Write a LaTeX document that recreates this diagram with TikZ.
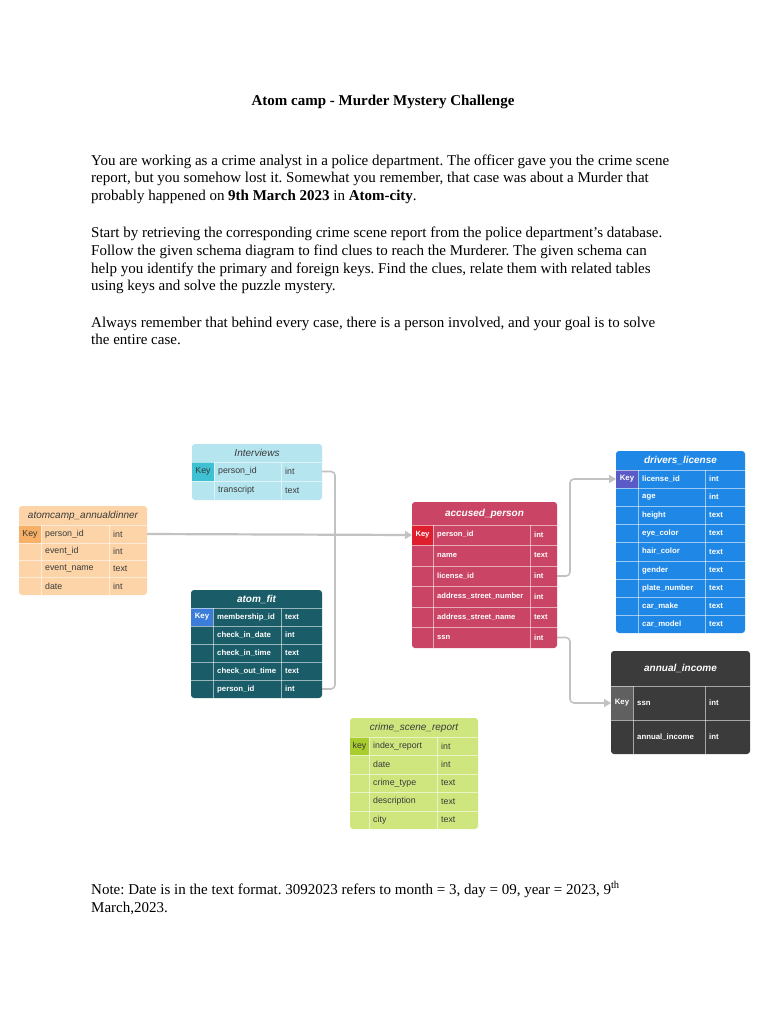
\documentclass[tikz,border=0pt]{standalone}
\usepackage{fontspec}
\setmainfont{Liberation Serif}
\newfontfamily\tabfont{Liberation Sans}
\usetikzlibrary{arrows.meta}
\frenchspacing
\definecolor{linkgray}{HTML}{C2C2C2}
\definecolor{ivfill}{HTML}{B5E6EF}
\definecolor{ivkey}{HTML}{3EC1D3}
\definecolor{adfill}{HTML}{FCD4A7}
\definecolor{adkey}{HTML}{F8B066}
\definecolor{apfill}{HTML}{C94465}
\definecolor{apkey}{HTML}{DF1F2D}
\definecolor{dlfill}{HTML}{1F87E5}
\definecolor{dlkey}{HTML}{5B5BC7}
\definecolor{affill}{HTML}{1A5D68}
\definecolor{afkey}{HTML}{3C7DD9}
\definecolor{aifill}{HTML}{3B3B3B}
\definecolor{aikey}{HTML}{606060}
\definecolor{csfill}{HTML}{CFE67E}
\definecolor{cskey}{HTML}{A9CD2C}
\definecolor{darktxt}{HTML}{3A3A3A}
\def\fw{}
\def\fs{7.6}
\newcommand\settab[4]{\def\xa{#1}\def\xk{#2}\def\xt{#3}\def\xb{#4}}
\newcommand\dbframe[6]{% fill, ytop, yhead, ybot, title, name
  \fill[#1, rounded corners=3pt] (\xa,#2) rectangle (\xb,#4);
  \node[hdr] (#6) at ({(\xa+\xb)/2},{(#2+#3)/2}) {#5};
}
\newcommand\dbkey[4]{% color, ytop, ybot, label
  \fill[#1] (\xa,#2) rectangle (\xk,#3);
  \node[fld, anchor=center] at ({(\xa+\xk)/2},{(#2+#3)/2}) {#4};
}
\newcommand\dbcols[2]{%
  \draw[sepl] (\xk,#1) -- (\xk,#2);
  \draw[sepl] (\xt,#1) -- (\xt,#2);
}
\newcommand\dbrow[5]{% name, ytop, ybot, field, type
  \draw[sepl] (\xa,#2) -- (\xb,#2);
  \node[fld] (#1) at ({\xk+4},{(#2+#3)/2}) {#4};
  \node[fld] (#1-t) at ({\xt+4},{(#2+#3)/2}) {#5};
}
\tikzset{
  body/.style={anchor=base west, inner sep=0pt, font=\fontsize{15}{17}\selectfont},
  fld/.style={anchor=west, inner sep=0pt, font=\tabfont\fw\fontsize{\fs}{9}\selectfont},
  hdr/.style={inner sep=0pt, font=\tabfont\itshape\fw\fontsize{10}{11}\selectfont},
  sepl/.style={draw=white, draw opacity=0.55, line width=0.6pt},
  conn/.style={draw=linkgray, line width=1.6pt, rounded corners=4pt},
  arr/.style={-{Triangle[length=7pt,width=8pt]}},
}
\begin{document}
\begin{tikzpicture}[x=1pt,y=-1pt]
\useasboundingbox (0,0) rectangle (768,1024);
\fill[white] (0,0) rectangle (768,1024);

% ---------- text ----------
\node[inner sep=0pt, font=\bfseries\fontsize{15}{17}\selectfont] (title) at (383,102) {Atom camp - Murder Mystery Challenge};
\node[body] (l1) at (91,165.5) {You are working as a crime analyst in a police department. The officer gave you the crime scene};
\node[body] (l2) at (91,183) {report, but you somehow lost it. Somewhat you remember, that case was about a Murder that};
\node[body] (l3) at (91,200.5) {probably happened on \textbf{9th March 2023} in \textbf{Atom-city}.};
\node[body] (l4) at (91,237) {Start by retrieving the corresponding crime scene report from the police department’s database.};
\node[body] (l5) at (91,255) {Follow the given schema diagram to find clues to reach the Murderer. The given schema can};
\node[body] (l6) at (91,273) {help you identify the primary and foreign keys. Find the clues, relate them with related tables};
\node[body] (l7) at (91,290.5) {using keys and solve the puzzle mystery.};
\node[body] (l8) at (91,327) {Always remember that behind every case, there is a person involved, and your goal is to solve};
\node[body] (l9) at (91,344.5) {the entire case.};
\node[body] (n1) at (91,894) {Note: Date is in the text format. 3092023 refers to month = 3, day = 09, year = 2023, 9\textsuperscript{th}};
\node[body] (n2) at (91,912) {March,2023.};

% ---------- connectors ----------
\coordinate (ad-pid-r) at (147,534);
\coordinate (ap-key-l) at (412,535);
\coordinate (iv-pid-r) at (322,471.5);
\coordinate (af-pid-r) at (322,689);
\coordinate (junc) at (335,535);
\coordinate (ap-lic-r) at (557,576);
\coordinate (dl-key-l) at (616,479);
\coordinate (ap-ssn-r) at (557,637.5);
\coordinate (ai-key-l) at (611,703);
\draw[conn, line width=2.2pt, arr] (ad-pid-r) -- (ap-key-l);
\draw[conn] (iv-pid-r) -| (junc);
\draw[conn] (af-pid-r) -| (junc);
\draw[conn, arr] (ap-lic-r) -- ++(13,0) |- (dl-key-l);
\draw[conn, arr] (ap-ssn-r) -- ++(13,0) |- (ai-key-l);

% ---------- Interviews ----------
\begin{scope}[text=darktxt]
\def\fw{}\def\fs{8.8}
\settab{192}{214}{281}{322}
\dbframe{ivfill}{444}{462}{500}{Interviews}{interviews}
\dbkey{ivkey}{462}{481}{Key}
\dbcols{462}{500}
\dbrow{iv1}{462}{481}{person\_id}{int}
\dbrow{iv2}{481}{500}{transcript}{text}
\end{scope}

% ---------- atomcamp_annualdinner ----------
\begin{scope}[text=darktxt]
\def\fw{}\def\fs{8.8}
\settab{19}{41}{109}{147}
\dbframe{adfill}{506}{525}{595}{atomcamp\_annualdinner}{annualdinner}
\dbkey{adkey}{525}{543}{Key}
\dbcols{525}{595}
\dbrow{ad1}{525}{543}{person\_id}{int}
\dbrow{ad2}{543}{560}{event\_id}{int}
\dbrow{ad3}{560}{577}{event\_name}{text}
\dbrow{ad4}{577}{595}{date}{int}
\end{scope}

% ---------- accused_person ----------
\begin{scope}[text=white]
\def\fw{\bfseries}\def\fs{7.6}
\settab{412}{433}{530}{557}
\dbframe{apfill}{502}{525}{648}{accused\_person}{accused}
\dbkey{apkey}{525}{545}{Key}
\dbcols{525}{648}
\dbrow{ap1}{525}{545}{person\_id}{int}
\dbrow{ap2}{545}{566}{name}{text}
\dbrow{ap3}{566}{586}{license\_id}{int}
\dbrow{ap4}{586}{607}{address\_street\_number}{int}
\dbrow{ap5}{607}{627}{address\_street\_name}{text}
\dbrow{ap6}{627}{648}{ssn}{int}
\end{scope}

% ---------- drivers_license ----------
\begin{scope}[text=white]
\def\fw{\bfseries}\def\fs{7.8}
\settab{616}{638}{705}{745}
\dbframe{dlfill}{451}{470}{633}{drivers\_license}{drivers}
\dbkey{dlkey}{470}{488}{Key}
\dbcols{470}{633}
\dbrow{dl1}{470}{488}{license\_id}{int}
\dbrow{dl2}{488}{506}{age}{int}
\dbrow{dl3}{506}{524}{height}{text}
\dbrow{dl4}{524}{542}{eye\_color}{text}
\dbrow{dl5}{542}{561}{hair\_color}{text}
\dbrow{dl6}{561}{579}{gender}{text}
\dbrow{dl7}{579}{597}{plate\_number}{text}
\dbrow{dl8}{597}{615}{car\_make}{text}
\dbrow{dl9}{615}{633}{car\_model}{text}
\end{scope}

% ---------- atom_fit ----------
\begin{scope}[text=white]
\def\fw{\bfseries}\def\fs{7.8}
\settab{191}{213}{281}{322}
\dbframe{affill}{590}{608}{698}{atom\_fit}{atomfit}
\dbkey{afkey}{608}{626}{Key}
\dbcols{608}{698}
\dbrow{af1}{608}{626}{membership\_id}{text}
\dbrow{af2}{626}{644}{check\_in\_date}{int}
\dbrow{af3}{644}{662}{check\_in\_time}{text}
\dbrow{af4}{662}{680}{check\_out\_time}{text}
\dbrow{af5}{680}{698}{person\_id}{int}
\end{scope}

% ---------- annual_income ----------
\begin{scope}[text=white]
\def\fw{\bfseries}\def\fs{7.8}
\settab{611}{633}{705}{750}
\dbframe{aifill}{651}{686}{754}{annual\_income}{income}
\dbkey{aikey}{686}{720}{Key}
\dbcols{686}{754}
\dbrow{ai1}{686}{720}{ssn}{int}
\dbrow{ai2}{720}{754}{annual\_income}{int}
\end{scope}

% ---------- crime_scene_report ----------
\begin{scope}[text=darktxt]
\def\fw{}\def\fs{8.8}
\settab{350}{369}{437}{478}
\dbframe{csfill}{718}{737}{829}{crime\_scene\_report}{crime}
\dbkey{cskey}{737}{755}{key}
\dbcols{737}{829}
\dbrow{cs1}{737}{755}{index\_report}{int}
\dbrow{cs2}{755}{774}{date}{int}
\dbrow{cs3}{774}{792}{crime\_type}{text}
\dbrow{cs4}{792}{811}{description}{text}
\dbrow{cs5}{811}{829}{city}{text}
\end{scope}
\end{tikzpicture}
\end{document}
